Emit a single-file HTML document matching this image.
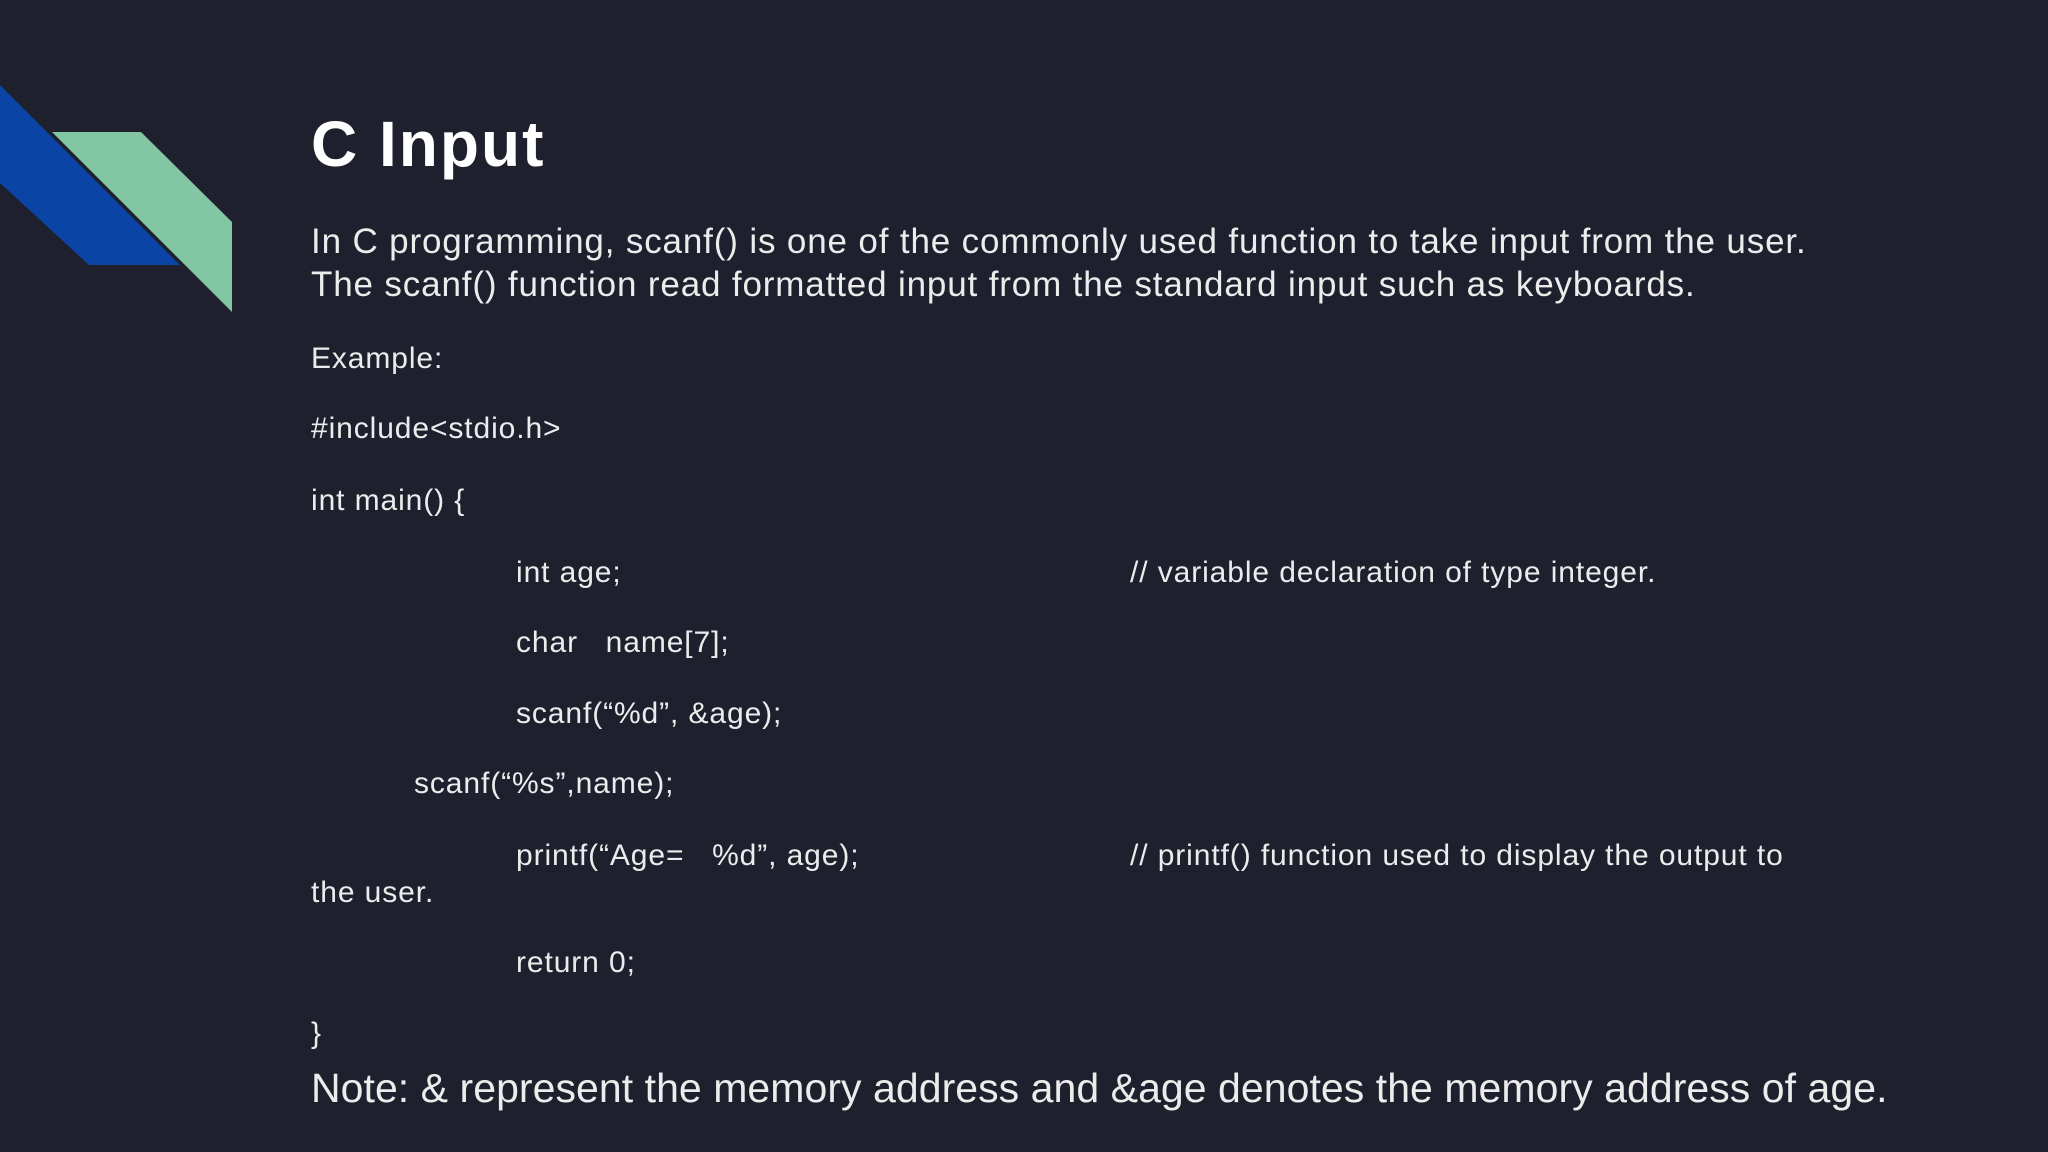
<!DOCTYPE html>
<html><head><meta charset="utf-8"><style>
html,body{margin:0;padding:0;}
body{width:2048px;height:1152px;background:#1e202d;position:relative;overflow:hidden;font-family:"Liberation Sans",sans-serif;color:#ececec;}
.t{position:absolute;white-space:nowrap;line-height:1;}
.b{font-size:35px;letter-spacing:0.85px;}
.c{font-size:30px;letter-spacing:0.9px;}
</style></head><body>
<svg width="2048" height="1152" style="position:absolute;left:0;top:0">
<polygon points="0,85 180,265 89,265 0,183" fill="#0a44a4"/>
<polygon points="52,132 141,132 232,222 232,312" fill="#83c6a4"/>
</svg>
<div class="t" style="left:311px;top:112px;font-size:64px;font-weight:bold;color:#fff;letter-spacing:2px">C Input</div>
<div class="t b" style="left:311px;top:224px">In C programming, scanf() is one of the commonly used function to take input from the user.</div>
<div class="t b" style="left:311px;top:267px">The scanf() function read formatted input from the standard input such as keyboards.</div>
<div class="t c" style="left:311px;top:344px">Example:</div>
<div class="t c" style="left:311px;top:414px">#include&lt;stdio.h&gt;</div>
<div class="t c" style="left:311px;top:486px">int main() {</div>
<div class="t c" style="left:516px;top:558px">int age;</div>
<div class="t c" style="left:1130px;top:558px">// variable declaration of type integer.</div>
<div class="t c" style="left:516px;top:628px">char &nbsp; name[7];</div>
<div class="t c" style="left:516px;top:699px">scanf(“%d”, &amp;age);</div>
<div class="t c" style="left:414px;top:769px">scanf(“%s”,name);</div>
<div class="t c" style="left:516px;top:841px">printf(“Age= &nbsp; %d”, age);</div>
<div class="t c" style="left:1130px;top:841px">// printf() function used to display the output to</div>
<div class="t c" style="left:311px;top:878px">the user.</div>
<div class="t c" style="left:516px;top:948px">return 0;</div>
<div class="t c" style="left:311px;top:1019px">}</div>
<div class="t" style="left:311px;top:1068px;font-size:41px;letter-spacing:0.05px">Note: &amp; represent the memory address and &amp;age denotes the memory address of age.</div>
</body></html>
